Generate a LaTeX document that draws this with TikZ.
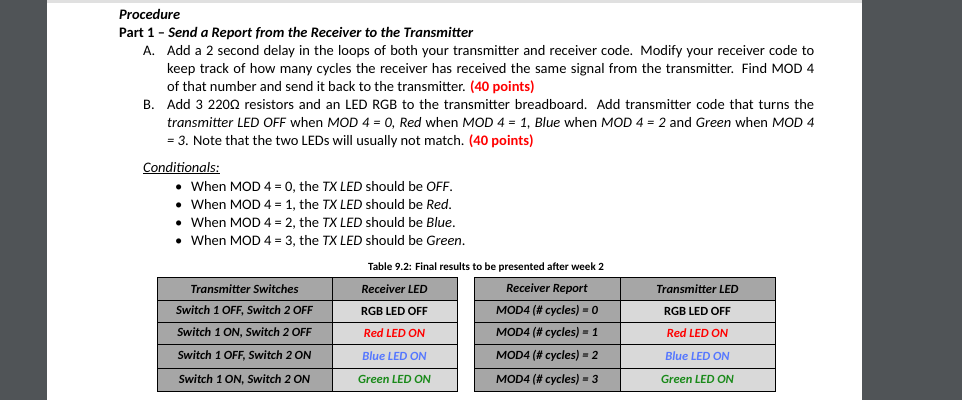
\documentclass[tikz,border=0pt]{standalone}
\usepackage{fontspec}
\setmainfont{Carlito}
\definecolor{bgdark}{HTML}{505457}
\definecolor{hdgrey}{HTML}{A6A6A6}
\definecolor{ltgrey}{HTML}{D9D9D9}
\definecolor{myred}{HTML}{FF0000}
\definecolor{myblue}{HTML}{5577FF}
\definecolor{mygreen}{HTML}{1A8A1A}
\begin{document}
\begin{tikzpicture}[x=1pt,y=-1pt,
  body/.style={anchor=base west,inner sep=0pt,font=\fontsize{14.5}{18}\selectfont},
  cell/.style={inner sep=0pt,font=\fontsize{12.5}{14}\selectfont\bfseries\itshape},
  grid/.style={draw=black,line width=0.9pt}]
\useasboundingbox (0,0) rectangle (962,400);
\fill[bgdark] (0,0) rectangle (962,400);
\fill[white] (47,3) rectangle (862,400);
\fill[black!12] (47,0) rectangle (862,3);
\newcommand{\J}[1]{\makebox[647pt][s]{#1}}
\node[body] (t1) at (119,19) {\bfseries\itshape Procedure};
\node[body] (t2) at (119,37) {\bfseries Part 1 -- \itshape Send a Report from the Receiver to the Transmitter};
\node[body] (a) at (143,55) {A.};
\node[body] (a1) at (167,55) {\J{Add a 2 second delay in the loops of both your transmitter and receiver code. Modify your receiver code to}};
\node[body] (a2) at (167,73) {\J{keep track of how many cycles the receiver has received the same signal from the transmitter. Find MOD 4}};
\node[body] (a3) at (167,91) {of that number and send it back to the transmitter. \textcolor{myred}{\bfseries(40 points)}};
\node[body] (b) at (143,109) {B.};
\node[body] (b1) at (167,109) {\J{Add 3 220Ω resistors and an LED RGB to the transmitter breadboard. Add transmitter code that turns the}};
\node[body] (b2) at (167,127) {\J{\textit{transmitter LED OFF} when \textit{MOD 4 = 0, Red} when \textit{MOD 4 = 1, Blue} when \textit{MOD 4 = 2} and \textit{Green} when \textit{MOD 4}}};
\node[body] (b3) at (167,145) {\textit{= 3}. Note that the two LEDs will usually not match. \textcolor{myred}{\bfseries(40 points)}};
\node[body] (c) at (143,172) {\itshape\underline{Conditionals:}};
\foreach \i/\v/\w in {0/0/OFF,1/1/Red,2/2/Blue,3/3/Green}{
  \node[body] (bu\i) at (175,191+18.3*\i) {•};
  \node[body] (cl\i) at (191,191+18.3*\i) {When MOD 4 = \v, the \textit{TX LED} should be \textit{\w}.};
}
\node[anchor=base,inner sep=0pt,font=\fontsize{11}{13}\selectfont\bfseries] (cap) at (486,270) {Table 9.2: Final results to be presented after week 2};
% tables
\foreach \xa/\xm/\xb in {157/332/457,474/620/775}{
  \fill[hdgrey] (\xa,277) rectangle (\xb,300);
  \fill[hdgrey] (\xa,300) rectangle (\xm,391);
  \fill[ltgrey] (\xm,300) rectangle (\xb,391);
  \draw[grid] (\xa,277) rectangle (\xb,391);
  \draw[grid] (\xm,277) -- (\xm,391);
  \foreach \yy in {300,322,344,368}{\draw[black,line width=0.7pt] (\xa,\yy) -- (\xb,\yy);}
}
\node[cell] (h1) at (244.5,289) {Transmitter Switches};
\node[cell] (h2) at (394.5,289) {Receiver LED};
\node[cell] (h3) at (547,289) {Receiver Report};
\node[cell] (h4) at (697.5,289) {Transmitter LED};
\foreach \i/\sw/\col/\txt/\up in {0/{Switch 1 OFF, Switch 2 OFF}/black/{RGB LED OFF}/1,1/{Switch 1 ON, Switch 2 OFF}/myred/{Red LED ON}/0,2/{Switch 1 OFF, Switch 2 ON}/myblue/{Blue LED ON}/0,3/{Switch 1 ON, Switch 2 ON}/mygreen/{Green LED ON}/0}{
  \pgfmathsetmacro{\yc}{{311,333,356,379.5}[\i]}
  \node[cell] (s\i) at (244.5,\yc) {\sw};
  \node[cell,text=\col] (r\i) at (394.5,\yc) {\ifnum\up=1 \upshape\fi\txt};
  \node[cell] (m\i) at (547,\yc) {MOD4 (\# cycles) = \i};
  \node[cell,text=\col] (l\i) at (697.5,\yc) {\ifnum\up=1 \upshape\fi\txt};
}
\end{tikzpicture}
\end{document}
